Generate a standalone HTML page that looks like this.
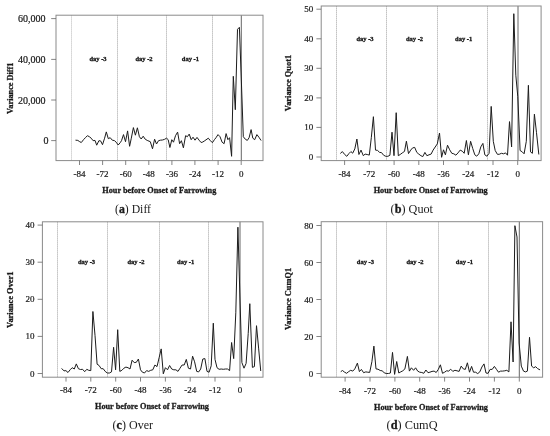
<!DOCTYPE html>
<html><head><meta charset="utf-8"><title>Variance before farrowing</title>
<style>
html,body{margin:0;padding:0;background:#fff;}
svg{display:block;}
text{font-family:"Liberation Serif","Times New Roman",serif;fill:#1a1a1a;stroke:#1a1a1a;stroke-width:0.2;}
.b{font-weight:bold;stroke-width:0.3;}
.cap{stroke-width:0;}
.fr{fill:none;stroke:#8a8a8a;stroke-width:1;}
.tk{stroke:#666;stroke-width:0.8;fill:none;}
.dt{stroke:#c2c2c2;stroke-width:1;stroke-dasharray:1,1;fill:none;}
.ds{stroke:#dcdcdc;stroke-width:1;fill:none;}
.zl{stroke:#555;stroke-width:0.9;fill:none;}
.ln{stroke:#1c1c1c;stroke-width:1.0;fill:none;stroke-linejoin:round;stroke-linecap:round;}
</style></head><body>
<svg width="550" height="436" viewBox="0 0 550 436">
<rect width="550" height="436" fill="#fff"/>

<g id="chart-a">
<line class="ds" style="stroke:#e2e2e2" x1="71.5" y1="15.2" x2="71.5" y2="160.6"/>
<line class="dt" style="stroke:#d4d4d4" x1="71.5" y1="15.2" x2="71.5" y2="160.6"/>
<line class="ds" x1="117.5" y1="15.2" x2="117.5" y2="160.6"/>
<line class="dt" x1="117.5" y1="15.2" x2="117.5" y2="160.6"/>
<line class="ds" x1="166.5" y1="15.2" x2="166.5" y2="160.6"/>
<line class="dt" x1="166.5" y1="15.2" x2="166.5" y2="160.6"/>
<line class="ds" x1="212.5" y1="15.2" x2="212.5" y2="160.6"/>
<line class="dt" x1="212.5" y1="15.2" x2="212.5" y2="160.6"/>
<line class="zl" x1="241.3" y1="15.2" x2="241.3" y2="160.6"/>
<path class="ln" d="M75.9,140.2 L77.8,140.4 L79.7,141.7 L81.3,142.5 L83.5,139.7 L85.4,137.7 L87.4,135.7 L89.3,136.7 L91.2,138.2 L93.1,140.7 L95.0,140.4 L96.7,145.2 L98.9,140.7 L100.6,140.9 L102.5,144.7 L104.6,138.2 L106.3,131.9 L108.3,138.7 L110.2,137.7 L112.3,140.2 L114.4,140.6 L116.2,142.2 L118.2,145.0 L120.2,142.7 L121.5,140.7 L123.5,134.6 L125.5,141.7 L127.6,130.9 L129.6,146.3 L131.3,138.2 L133.4,127.6 L135.4,135.2 L137.4,127.8 L139.4,136.7 L141.2,139.0 L143.2,136.2 L145.2,139.2 L147.2,140.4 L150.3,141.7 L152.5,148.8 L154.6,139.2 L156.5,144.0 L158.5,140.7 L160.4,140.2 L162.4,140.0 L164.4,139.4 L166.6,138.2 L168.2,139.7 L169.9,147.5 L171.8,139.7 L173.5,142.2 L175.5,135.7 L177.6,132.1 L179.6,143.7 L181.4,140.7 L183.4,147.8 L185.6,135.7 L187.4,136.7 L189.2,134.1 L191.2,139.7 L193.0,137.2 L195.0,140.2 L197.0,137.4 L199.1,140.2 L201.1,142.5 L202.8,142.0 L204.8,140.7 L208.3,138.2 L210.4,140.7 L212.4,142.7 L214.4,139.7 L216.0,137.7 L218.0,134.6 L220.0,136.7 L222.1,142.2 L224.1,143.7 L226.1,133.6 L227.9,139.7 L229.6,137.7 L231.6,156.3 L233.3,76.3 L235.3,109.7 L237.5,29.3 L239.4,27.3 L241.4,82.0 L243.3,136.7 L245.3,139.2 L247.3,140.4 L249.1,137.7 L251.1,129.6 L252.8,138.2 L254.7,139.7 L256.9,134.6 L258.9,137.2 L260.9,140.2"/>
<rect class="fr" x="56.0" y="15.2" width="207.0" height="145.4"/>
<line class="tk" x1="79.5" y1="160.6" x2="79.5" y2="165.0"/>
<text x="79.5" y="177.0" font-size="9" text-anchor="middle">-84</text>
<line class="tk" x1="102.6" y1="160.6" x2="102.6" y2="165.0"/>
<text x="102.6" y="177.0" font-size="9" text-anchor="middle">-72</text>
<line class="tk" x1="125.7" y1="160.6" x2="125.7" y2="165.0"/>
<text x="125.7" y="177.0" font-size="9" text-anchor="middle">-60</text>
<line class="tk" x1="148.8" y1="160.6" x2="148.8" y2="165.0"/>
<text x="148.8" y="177.0" font-size="9" text-anchor="middle">-48</text>
<line class="tk" x1="171.9" y1="160.6" x2="171.9" y2="165.0"/>
<text x="171.9" y="177.0" font-size="9" text-anchor="middle">-36</text>
<line class="tk" x1="194.9" y1="160.6" x2="194.9" y2="165.0"/>
<text x="194.9" y="177.0" font-size="9" text-anchor="middle">-24</text>
<line class="tk" x1="218.1" y1="160.6" x2="218.1" y2="165.0"/>
<text x="218.1" y="177.0" font-size="9" text-anchor="middle">-12</text>
<line class="tk" x1="241.2" y1="160.6" x2="241.2" y2="165.0"/>
<text x="241.2" y="177.0" font-size="9" text-anchor="middle">0</text>
<line class="tk" x1="51.2" y1="140.6" x2="56.0" y2="140.6"/>
<text x="48.6" y="144.3" font-size="10" text-anchor="end">0</text>
<line class="tk" x1="51.2" y1="100.0" x2="56.0" y2="100.0"/>
<text x="45.5" y="103.7" font-size="10" text-anchor="end">20,000</text>
<line class="tk" x1="51.2" y1="59.4" x2="56.0" y2="59.4"/>
<text x="45.5" y="63.1" font-size="10" text-anchor="end">40,000</text>
<line class="tk" x1="51.2" y1="18.6" x2="56.0" y2="18.6"/>
<text x="45.5" y="22.3" font-size="10" text-anchor="end">60,000</text>
<text class="b" x="159.3" y="193.1" font-size="8.6" text-anchor="middle" textLength="114" lengthAdjust="spacingAndGlyphs">Hour before Onset of Farrowing</text>
<text class="b" transform="translate(12.7,88.2) rotate(-90)" font-size="8.5" text-anchor="middle" textLength="51.4" lengthAdjust="spacingAndGlyphs">Variance Diff1</text>
<text class="b" x="98.0" y="61.4" font-size="6.5" text-anchor="middle">day -3</text>
<text class="b" x="144.0" y="61.4" font-size="6.5" text-anchor="middle">day -2</text>
<text class="b" x="190.4" y="61.4" font-size="6.5" text-anchor="middle">day -1</text>
<text x="115.0" y="212.5" class="cap" font-size="11.8" textLength="36.0" lengthAdjust="spacingAndGlyphs">(<tspan class="b">a</tspan>) Diff</text>
</g>
<g id="chart-b">
<line class="ds" x1="336.5" y1="6.0" x2="336.5" y2="160.6"/>
<line class="dt" x1="336.5" y1="6.0" x2="336.5" y2="160.6"/>
<line class="ds" x1="386.5" y1="6.0" x2="386.5" y2="160.6"/>
<line class="dt" x1="386.5" y1="6.0" x2="386.5" y2="160.6"/>
<line class="ds" x1="437.5" y1="6.0" x2="437.5" y2="160.6"/>
<line class="dt" x1="437.5" y1="6.0" x2="437.5" y2="160.6"/>
<line class="ds" x1="487.5" y1="6.0" x2="487.5" y2="160.6"/>
<line class="dt" x1="487.5" y1="6.0" x2="487.5" y2="160.6"/>
<line class="zl" x1="518.0" y1="6.0" x2="518.0" y2="160.6"/>
<path class="ln" d="M340.6,153.2 L342.4,151.6 L344.7,154.5 L346.8,156.3 L348.9,153.6 L350.9,151.6 L352.7,153.2 L354.8,148.9 L356.9,139.0 L358.9,154.5 L361.0,150.1 L363.3,155.7 L365.1,154.1 L367.2,154.5 L369.3,155.1 L371.3,137.7 L373.4,116.7 L375.5,150.1 L377.5,150.4 L379.6,152.4 L381.5,152.6 L383.7,155.3 L385.8,156.3 L387.9,156.3 L389.9,155.3 L392.0,132.2 L394.0,155.7 L396.2,112.7 L398.3,155.7 L400.2,154.5 L402.3,152.9 L404.5,151.4 L406.4,141.2 L408.5,153.6 L410.7,150.1 L412.6,147.9 L414.7,147.4 L416.8,152.4 L418.8,154.1 L420.9,155.7 L422.8,156.6 L424.9,152.4 L426.9,155.7 L429.0,154.8 L431.1,154.1 L433.1,150.1 L435.2,147.0 L437.3,143.9 L439.5,133.0 L441.6,157.3 L443.5,149.8 L445.4,154.8 L447.5,145.2 L449.7,149.8 L451.8,153.3 L453.8,153.8 L455.9,155.2 L458.0,152.9 L460.2,150.1 L462.3,151.2 L464.2,153.3 L466.4,140.5 L468.4,154.8 L470.6,141.3 L472.7,148.4 L474.8,154.8 L476.7,156.2 L478.8,153.8 L480.8,146.9 L482.9,143.4 L484.8,154.8 L486.9,156.2 L489.1,153.3 L491.2,106.4 L493.3,141.3 L495.2,150.5 L497.4,154.3 L499.2,154.3 L501.4,153.3 L503.5,153.8 L505.6,152.9 L507.5,155.2 L509.5,121.6 L511.6,146.9 L513.8,13.7 L515.8,75.2 L517.8,96.7 L520.1,150.5 L522.3,151.9 L524.1,153.8 L526.3,141.3 L528.4,85.3 L530.5,151.9 L532.4,153.3 L534.4,114.2 L536.5,132.7 L538.8,154.1"/>
<rect class="fr" x="321.2" y="6.0" width="219.9" height="154.6"/>
<line class="tk" x1="344.6" y1="160.6" x2="344.6" y2="165.0"/>
<text x="344.6" y="177.0" font-size="9" text-anchor="middle">-84</text>
<line class="tk" x1="369.3" y1="160.6" x2="369.3" y2="165.0"/>
<text x="369.3" y="177.0" font-size="9" text-anchor="middle">-72</text>
<line class="tk" x1="394.1" y1="160.6" x2="394.1" y2="165.0"/>
<text x="394.1" y="177.0" font-size="9" text-anchor="middle">-60</text>
<line class="tk" x1="418.8" y1="160.6" x2="418.8" y2="165.0"/>
<text x="418.8" y="177.0" font-size="9" text-anchor="middle">-48</text>
<line class="tk" x1="443.5" y1="160.6" x2="443.5" y2="165.0"/>
<text x="443.5" y="177.0" font-size="9" text-anchor="middle">-36</text>
<line class="tk" x1="468.2" y1="160.6" x2="468.2" y2="165.0"/>
<text x="468.2" y="177.0" font-size="9" text-anchor="middle">-24</text>
<line class="tk" x1="493.0" y1="160.6" x2="493.0" y2="165.0"/>
<text x="493.0" y="177.0" font-size="9" text-anchor="middle">-12</text>
<line class="tk" x1="517.7" y1="160.6" x2="517.7" y2="165.0"/>
<text x="517.7" y="177.0" font-size="9" text-anchor="middle">0</text>
<line class="tk" x1="316.4" y1="157.0" x2="321.2" y2="157.0"/>
<text x="313.2" y="160.0" font-size="9" text-anchor="end">0</text>
<line class="tk" x1="316.4" y1="127.4" x2="321.2" y2="127.4"/>
<text x="313.2" y="130.4" font-size="9" text-anchor="end">10</text>
<line class="tk" x1="316.4" y1="97.9" x2="321.2" y2="97.9"/>
<text x="313.2" y="100.9" font-size="9" text-anchor="end">20</text>
<line class="tk" x1="316.4" y1="68.3" x2="321.2" y2="68.3"/>
<text x="313.2" y="71.3" font-size="9" text-anchor="end">30</text>
<line class="tk" x1="316.4" y1="38.8" x2="321.2" y2="38.8"/>
<text x="313.2" y="41.8" font-size="9" text-anchor="end">40</text>
<line class="tk" x1="316.4" y1="9.2" x2="321.2" y2="9.2"/>
<text x="313.2" y="12.2" font-size="9" text-anchor="end">50</text>
<text class="b" x="430.7" y="193.1" font-size="8.6" text-anchor="middle" textLength="114" lengthAdjust="spacingAndGlyphs">Hour before Onset of Farrowing</text>
<text class="b" transform="translate(291.3,83.0) rotate(-90)" font-size="8.5" text-anchor="middle" textLength="56.3" lengthAdjust="spacingAndGlyphs">Variance Quot1</text>
<text class="b" x="365.0" y="41.0" font-size="6.5" text-anchor="middle">day -3</text>
<text class="b" x="414.5" y="41.0" font-size="6.5" text-anchor="middle">day -2</text>
<text class="b" x="463.6" y="41.0" font-size="6.5" text-anchor="middle">day -1</text>
<text x="390.6" y="212.5" class="cap" font-size="11.8" textLength="42.4" lengthAdjust="spacingAndGlyphs">(<tspan class="b">b</tspan>) Quot</text>
</g>
<g id="chart-c">
<line class="ds" x1="57.5" y1="221.8" x2="57.5" y2="377.2"/>
<line class="dt" x1="57.5" y1="221.8" x2="57.5" y2="377.2"/>
<line class="ds" x1="107.5" y1="221.8" x2="107.5" y2="377.2"/>
<line class="dt" x1="107.5" y1="221.8" x2="107.5" y2="377.2"/>
<line class="ds" x1="159.5" y1="221.8" x2="159.5" y2="377.2"/>
<line class="dt" x1="159.5" y1="221.8" x2="159.5" y2="377.2"/>
<line class="ds" x1="208.5" y1="221.8" x2="208.5" y2="377.2"/>
<line class="dt" x1="208.5" y1="221.8" x2="208.5" y2="377.2"/>
<line class="zl" x1="240.0" y1="221.8" x2="240.0" y2="377.2"/>
<path class="ln" d="M61.9,368.7 L64.0,370.9 L65.9,370.6 L68.0,372.5 L70.1,369.8 L72.2,367.7 L74.3,369.0 L76.3,363.9 L78.4,368.7 L80.5,369.5 L82.6,369.3 L84.7,371.7 L86.8,369.3 L88.7,370.3 L90.8,370.6 L92.9,311.5 L95.0,335.3 L97.1,364.2 L99.1,365.5 L101.2,368.7 L103.2,368.7 L105.2,371.4 L107.3,373.0 L109.4,373.0 L111.5,371.9 L113.6,347.3 L115.6,369.8 L117.7,329.7 L119.8,371.4 L121.9,370.3 L123.9,368.2 L125.9,367.1 L128.0,367.7 L130.0,369.0 L132.1,360.2 L134.2,362.6 L136.3,362.3 L138.4,359.0 L140.5,369.8 L142.4,372.2 L144.5,373.0 L146.6,370.6 L148.7,371.4 L150.7,370.3 L152.8,369.8 L154.9,365.0 L157.0,366.6 L159.1,357.8 L161.2,348.9 L163.3,373.8 L165.4,367.7 L167.5,369.8 L169.6,365.5 L171.7,369.0 L173.8,369.8 L175.9,369.8 L178.0,371.4 L180.0,368.2 L182.1,365.0 L184.2,365.0 L186.3,359.4 L188.4,368.2 L190.5,369.0 L192.6,356.2 L194.6,361.8 L196.7,371.4 L198.7,371.9 L200.7,369.0 L202.8,359.0 L204.9,358.6 L207.0,371.4 L209.1,372.2 L211.2,365.8 L213.3,323.2 L215.0,359.4 L217.0,367.7 L219.1,369.3 L221.2,369.0 L223.3,369.3 L225.4,369.0 L227.5,369.0 L229.6,370.6 L231.6,342.5 L233.7,358.6 L235.8,312.8 L237.9,227.2 L239.9,296.0 L241.9,362.6 L244.0,368.2 L246.1,363.4 L248.2,333.7 L249.8,303.7 L252.4,367.4 L254.4,366.6 L256.5,325.7 L258.6,348.1 L260.7,370.6"/>
<rect class="fr" x="42.4" y="221.8" width="220.6" height="155.4"/>
<line class="tk" x1="66.0" y1="377.2" x2="66.0" y2="381.6"/>
<text x="66.0" y="393.3" font-size="9" text-anchor="middle">-84</text>
<line class="tk" x1="90.8" y1="377.2" x2="90.8" y2="381.6"/>
<text x="90.8" y="393.3" font-size="9" text-anchor="middle">-72</text>
<line class="tk" x1="115.7" y1="377.2" x2="115.7" y2="381.6"/>
<text x="115.7" y="393.3" font-size="9" text-anchor="middle">-60</text>
<line class="tk" x1="140.5" y1="377.2" x2="140.5" y2="381.6"/>
<text x="140.5" y="393.3" font-size="9" text-anchor="middle">-48</text>
<line class="tk" x1="165.4" y1="377.2" x2="165.4" y2="381.6"/>
<text x="165.4" y="393.3" font-size="9" text-anchor="middle">-36</text>
<line class="tk" x1="190.2" y1="377.2" x2="190.2" y2="381.6"/>
<text x="190.2" y="393.3" font-size="9" text-anchor="middle">-24</text>
<line class="tk" x1="215.0" y1="377.2" x2="215.0" y2="381.6"/>
<text x="215.0" y="393.3" font-size="9" text-anchor="middle">-12</text>
<line class="tk" x1="239.9" y1="377.2" x2="239.9" y2="381.6"/>
<text x="239.9" y="393.3" font-size="9" text-anchor="middle">0</text>
<line class="tk" x1="37.6" y1="373.5" x2="42.4" y2="373.5"/>
<text x="34.4" y="376.5" font-size="9" text-anchor="end">0</text>
<line class="tk" x1="37.6" y1="336.4" x2="42.4" y2="336.4"/>
<text x="34.4" y="339.4" font-size="9" text-anchor="end">10</text>
<line class="tk" x1="37.6" y1="299.3" x2="42.4" y2="299.3"/>
<text x="34.4" y="302.3" font-size="9" text-anchor="end">20</text>
<line class="tk" x1="37.6" y1="262.2" x2="42.4" y2="262.2"/>
<text x="34.4" y="265.2" font-size="9" text-anchor="end">30</text>
<line class="tk" x1="37.6" y1="225.1" x2="42.4" y2="225.1"/>
<text x="34.4" y="228.1" font-size="9" text-anchor="end">40</text>
<text class="b" x="152.0" y="409.3" font-size="8.6" text-anchor="middle" textLength="114" lengthAdjust="spacingAndGlyphs">Hour before Onset of Farrowing</text>
<text class="b" transform="translate(12.7,299.7) rotate(-90)" font-size="8.5" text-anchor="middle" textLength="56.4" lengthAdjust="spacingAndGlyphs">Variance Over1</text>
<text class="b" x="86.5" y="264.0" font-size="6.5" text-anchor="middle">day -3</text>
<text class="b" x="136.0" y="264.0" font-size="6.5" text-anchor="middle">day -2</text>
<text class="b" x="185.6" y="264.0" font-size="6.5" text-anchor="middle">day -1</text>
<text x="112.6" y="429.0" class="cap" font-size="11.8" textLength="40.4" lengthAdjust="spacingAndGlyphs">(<tspan class="b">c</tspan>) Over</text>
</g>
<g id="chart-d">
<line class="ds" x1="336.5" y1="221.7" x2="336.5" y2="377.2"/>
<line class="dt" x1="336.5" y1="221.7" x2="336.5" y2="377.2"/>
<line class="ds" x1="386.5" y1="221.7" x2="386.5" y2="377.2"/>
<line class="dt" x1="386.5" y1="221.7" x2="386.5" y2="377.2"/>
<line class="ds" x1="438.5" y1="221.7" x2="438.5" y2="377.2"/>
<line class="dt" x1="438.5" y1="221.7" x2="438.5" y2="377.2"/>
<line class="ds" x1="488.5" y1="221.7" x2="488.5" y2="377.2"/>
<line class="dt" x1="488.5" y1="221.7" x2="488.5" y2="377.2"/>
<line class="zl" x1="519.3" y1="221.7" x2="519.3" y2="377.2"/>
<path class="ln" d="M341.1,371.4 L342.5,370.5 L344.6,372.2 L346.6,373.3 L348.7,371.6 L350.7,370.3 L352.8,371.1 L354.8,368.9 L357.4,363.1 L359.4,371.6 L361.4,369.4 L363.6,372.7 L365.8,371.9 L367.8,372.2 L369.7,372.4 L371.9,361.7 L373.9,346.1 L376.0,368.9 L378.0,369.2 L380.2,370.5 L382.1,370.8 L384.2,372.7 L386.2,373.5 L388.4,373.5 L390.4,373.0 L392.5,352.4 L394.6,374.4 L396.7,361.5 L398.8,373.0 L400.7,371.9 L402.8,370.8 L404.9,368.9 L407.4,356.4 L409.4,371.1 L411.4,367.8 L413.6,370.3 L415.6,367.8 L417.7,371.1 L419.7,372.2 L421.8,372.5 L423.8,373.3 L425.9,370.0 L428.0,372.7 L429.9,372.2 L432.0,371.4 L434.1,371.1 L436.2,372.5 L438.3,369.4 L440.4,364.8 L442.5,373.3 L444.6,372.2 L446.6,370.8 L448.7,371.1 L450.7,369.2 L452.8,371.4 L454.9,370.3 L457.0,370.8 L459.1,371.4 L461.2,366.1 L463.3,368.9 L465.3,369.4 L467.4,362.8 L469.5,372.2 L471.6,366.4 L473.5,372.2 L475.6,372.2 L477.7,373.6 L479.8,371.9 L481.9,367.0 L484.0,363.9 L486.0,373.0 L488.1,373.3 L490.1,369.4 L492.2,369.4 L494.4,366.4 L496.5,369.4 L498.5,372.2 L500.6,371.1 L502.6,371.1 L504.8,370.8 L506.8,370.3 L508.9,371.9 L511.0,321.8 L513.1,362.0 L514.9,225.7 L517.0,237.0 L519.1,343.0 L521.3,366.1 L523.5,371.1 L525.5,371.9 L527.4,371.1 L529.5,337.3 L531.6,366.1 L533.7,367.8 L535.7,366.7 L537.6,368.6 L539.7,369.7"/>
<rect class="fr" x="321.2" y="221.7" width="221.4" height="155.5"/>
<line class="tk" x1="345.1" y1="377.2" x2="345.1" y2="381.6"/>
<text x="345.1" y="393.6" font-size="9" text-anchor="middle">-84</text>
<line class="tk" x1="370.0" y1="377.2" x2="370.0" y2="381.6"/>
<text x="370.0" y="393.6" font-size="9" text-anchor="middle">-72</text>
<line class="tk" x1="394.9" y1="377.2" x2="394.9" y2="381.6"/>
<text x="394.9" y="393.6" font-size="9" text-anchor="middle">-60</text>
<line class="tk" x1="419.7" y1="377.2" x2="419.7" y2="381.6"/>
<text x="419.7" y="393.6" font-size="9" text-anchor="middle">-48</text>
<line class="tk" x1="444.6" y1="377.2" x2="444.6" y2="381.6"/>
<text x="444.6" y="393.6" font-size="9" text-anchor="middle">-36</text>
<line class="tk" x1="469.5" y1="377.2" x2="469.5" y2="381.6"/>
<text x="469.5" y="393.6" font-size="9" text-anchor="middle">-24</text>
<line class="tk" x1="494.4" y1="377.2" x2="494.4" y2="381.6"/>
<text x="494.4" y="393.6" font-size="9" text-anchor="middle">-12</text>
<line class="tk" x1="519.3" y1="377.2" x2="519.3" y2="381.6"/>
<text x="519.3" y="393.6" font-size="9" text-anchor="middle">0</text>
<line class="tk" x1="316.4" y1="373.5" x2="321.2" y2="373.5"/>
<text x="313.2" y="376.5" font-size="9" text-anchor="end">0</text>
<line class="tk" x1="316.4" y1="336.5" x2="321.2" y2="336.5"/>
<text x="313.2" y="339.5" font-size="9" text-anchor="end">20</text>
<line class="tk" x1="316.4" y1="299.5" x2="321.2" y2="299.5"/>
<text x="313.2" y="302.5" font-size="9" text-anchor="end">40</text>
<line class="tk" x1="316.4" y1="262.5" x2="321.2" y2="262.5"/>
<text x="313.2" y="265.5" font-size="9" text-anchor="end">60</text>
<line class="tk" x1="316.4" y1="225.5" x2="321.2" y2="225.5"/>
<text x="313.2" y="228.5" font-size="9" text-anchor="end">80</text>
<text class="b" x="431.0" y="409.7" font-size="8.6" text-anchor="middle" textLength="114" lengthAdjust="spacingAndGlyphs">Hour before Onset of Farrowing</text>
<text class="b" transform="translate(291.3,298.9) rotate(-90)" font-size="8.5" text-anchor="middle" textLength="62.1" lengthAdjust="spacingAndGlyphs">Variance CumQ1</text>
<text class="b" x="365.4" y="264.4" font-size="6.5" text-anchor="middle">day -3</text>
<text class="b" x="415.0" y="264.4" font-size="6.5" text-anchor="middle">day -2</text>
<text class="b" x="464.4" y="264.4" font-size="6.5" text-anchor="middle">day -1</text>
<text x="386.6" y="429.0" class="cap" font-size="11.8" textLength="51.0" lengthAdjust="spacingAndGlyphs">(<tspan class="b">d</tspan>) CumQ</text>
</g>
</svg></body></html>
